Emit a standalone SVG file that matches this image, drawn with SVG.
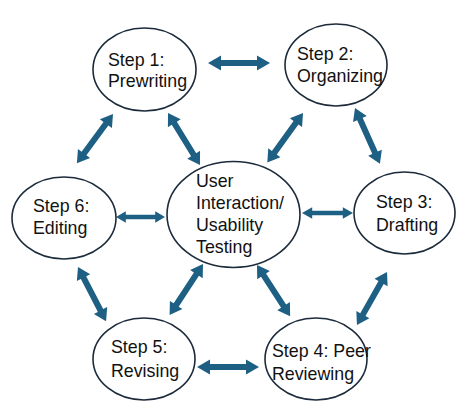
<svg xmlns="http://www.w3.org/2000/svg" xmlns:xlink="http://www.w3.org/1999/xlink" width="474" height="416" viewBox="0 0 474 416">
<style>
.node ellipse{fill:#fff;stroke:#1b2b3b;stroke-width:1.6}
.node text{font-family:"Liberation Sans","Open Sans",Arial,sans-serif;font-size:17.8px;fill:#111}
.arr{fill:#1e5f84}
</style>
<defs>
<path id="a61" d="M0,0 L12,-7.5 L12,-3 L49,-3 L49,-7.5 L61,0 L49,7.5 L49,3 L12,3 L12,7.5 Z"/>
<path id="a62" d="M0,0 L13,-7.5 L13,-3 L49,-3 L49,-7.5 L62,0 L49,7.5 L49,3 L13,3 L13,7.5 Z"/>
<path id="a50" d="M0,0 L10,-5.8 L10,-2.3 L40,-2.3 L40,-5.8 L50,0 L40,5.8 L40,2.3 L10,2.3 L10,5.8 Z"/>
</defs>
<rect width="474" height="416" fill="#fff"/>
<g id="connectors" class="arr">
<use href="#a62" transform="translate(208,63)"/>
<use href="#a62" transform="translate(197,367)"/>
<use href="#a50" transform="translate(116,217) scale(0.98,1)"/>
<use href="#a50" transform="translate(302,213) scale(1.02,1)"/>
<use href="#a61" transform="translate(113,114) rotate(126.3)"/>
<use href="#a61" transform="translate(168,113) rotate(58.4)"/>
<use href="#a61" transform="translate(303,113) rotate(125.8)"/>
<use href="#a61" transform="translate(355,108) rotate(65.9)"/>
<use href="#a61" transform="translate(78,267) rotate(62.6)"/>
<use href="#a61" transform="translate(203,264) rotate(123.2)"/>
<use href="#a61" transform="translate(257,265) rotate(57.1)"/>
<use href="#a61" transform="translate(387,272) rotate(119.5)"/>
</g>
<g id="step1" class="node">
<ellipse cx="144.5" cy="69.5" rx="51.5" ry="41.5"/>
<text x="108" y="66">Step 1:</text>
<text x="108" y="87">Prewriting</text>
</g>
<g id="step2" class="node">
<ellipse cx="336" cy="65" rx="51" ry="41"/>
<text x="297" y="60">Step 2:</text>
<text x="297" y="82">Organizing</text>
</g>
<g id="step3" class="node">
<ellipse cx="404.5" cy="213" rx="50.5" ry="41"/>
<text x="376" y="208">Step 3:</text>
<text x="376" y="231">Drafting</text>
</g>
<g id="step4" class="node">
<ellipse cx="316" cy="359" rx="51" ry="41"/>
<text x="272" y="357">Step 4: Peer</text>
<text x="272" y="380">Reviewing</text>
</g>
<g id="step5" class="node">
<ellipse cx="144" cy="359" rx="51" ry="41"/>
<text x="111" y="353">Step 5:</text>
<text x="111" y="377">Revising</text>
</g>
<g id="step6" class="node">
<ellipse cx="64" cy="218" rx="52" ry="41"/>
<text x="33" y="212">Step 6:</text>
<text x="33" y="234">Editing</text>
</g>
<g id="center" class="node">
<ellipse cx="233.5" cy="214.5" rx="66.5" ry="53"/>
<text x="196" y="187">User</text>
<text x="196" y="209">Interaction/</text>
<text x="196" y="231">Usability</text>
<text x="196" y="253">Testing</text>
</g>
</svg>
